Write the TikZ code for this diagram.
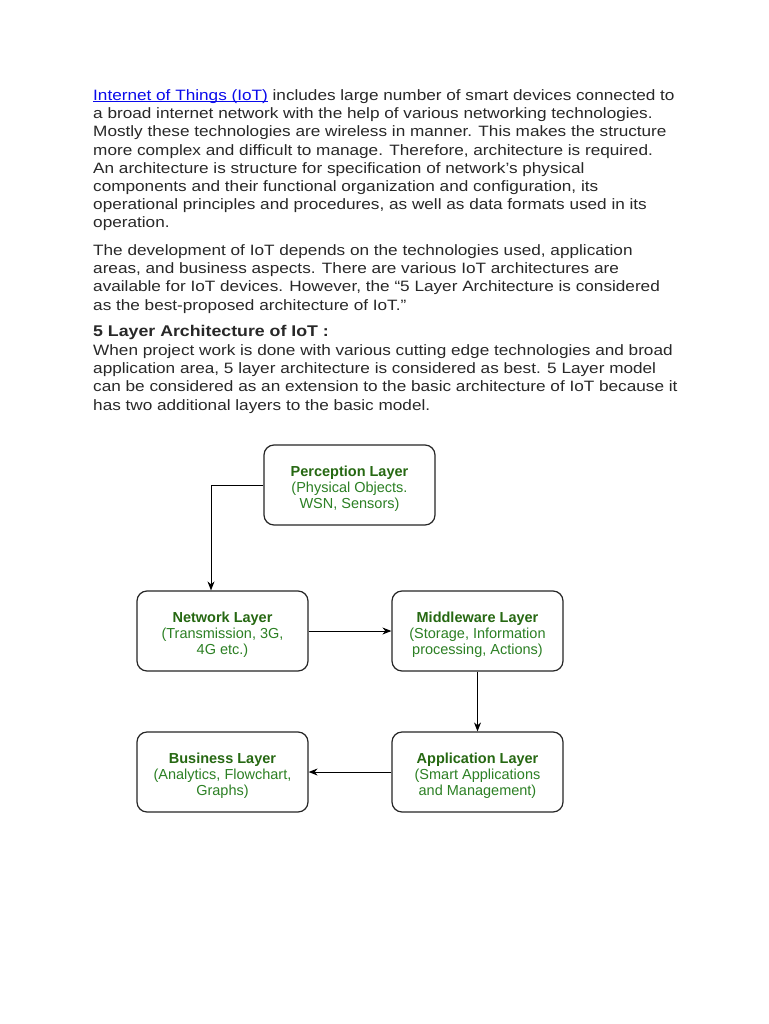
\documentclass[tikz,border=0pt]{standalone}
\usepackage{fontspec}
\setmainfont{Liberation Sans}
\newfontfamily\bodyfont{Liberation Sans}[FakeStretch=1.145]
\usepackage{xcolor}
\usepackage{tikz}
\usetikzlibrary{arrows.meta}

\definecolor{bodygray}{RGB}{40,40,40}
\definecolor{linkblue}{RGB}{10,10,235}
\definecolor{titlegreen}{RGB}{38,104,18}
\definecolor{textgreen}{RGB}{44,128,36}

% pushes the three lines of a box a little down
\newcommand{\boxgap}{\rule{0pt}{17pt}}
% link text with a thin underline close to the baseline
\newcommand{\linktext}[1]{\setbox0\hbox{#1}\rlap{\rule[-1.6pt]{\wd0}{0.9pt}}\box0}

\tikzset{
	para/.style={anchor=base west, align=left, inner sep=0pt, text=bodygray,
		font=\bodyfont\fontsize{15}{18.2}\selectfont},
	layerbox/.style={draw=black!85, line width=1.2pt, rounded corners=10pt,
		minimum width=171pt, minimum height=80pt, align=center, inner sep=0pt,
		text=textgreen, font=\fontsize{14.5}{16}\selectfont},
}

\begin{document}
\begin{tikzpicture}[x=1pt,y=-1pt,>={Stealth[length=9pt,width=7pt]}]
	\useasboundingbox[fill=white] (0,0) rectangle (768,1024);
	
	% text above the diagram (placed by the baseline of the last line)
	\node[para] (intro) at (93,228)
	{{\color{linkblue}\linktext{Internet of Things (IoT)}} includes large number of smart devices connected to\\
		a broad internet network with the help of various networking technologies.\\
		Mostly these technologies are wireless in manner. This makes the structure\\
		more complex and difficult to manage. Therefore, architecture is required.\\
		An architecture is structure for specification of network’s physical\\
		components and their functional organization and configuration, its\\
		operational principles and procedures, as well as data formats used in its\\
		operation.};
	\node[para] (devel) at (93,310)
	{The development of IoT depends on the technologies used, application\\
		areas, and business aspects. There are various IoT architectures are\\
		available for IoT devices. However, the “5 Layer Architecture is considered\\
		as the best-proposed architecture of IoT.”};
	\node[para, font=\bodyfont\bfseries\fontsize{15.5}{18.2}\selectfont] (head) at (93,336)
	{5 Layer Architecture of IoT :};
	\node[para] (when) at (93,410)
	{When project work is done with various cutting edge technologies and broad\\
		application area, 5 layer architecture is considered as best. 5 Layer model\\
		can be considered as an extension to the basic architecture of IoT because it\\
		has two additional layers to the basic model.};
	
	% the five layers
	\node[layerbox] (perc) at (349.5,485)
	{\boxgap{\color{titlegreen}\bfseries Perception Layer}\\(Physical Objects.\\WSN, Sensors)};
	\node[layerbox] (netw) at (222.5,631)
	{\boxgap{\color{titlegreen}\bfseries Network Layer}\\(Transmission, 3G,\\4G etc.)};
	\node[layerbox] (midw) at (477.5,631)
	{\boxgap{\color{titlegreen}\bfseries Middleware Layer}\\(Storage, Information\\processing, Actions)};
	\node[layerbox] (busi) at (222.5,772)
	{\boxgap{\color{titlegreen}\bfseries Business Layer}\\(Analytics, Flowchart,\\Graphs)};
	\node[layerbox] (appl) at (477.5,772)
	{\boxgap{\color{titlegreen}\bfseries Application Layer}\\(Smart Applications\\and Management)};
	
	\coordinate (bend) at (211,485);
	
	\draw[->,line width=1pt] (perc.west) -- (bend) -- (bend |- netw.north);
	\draw[->,line width=1pt] (netw.east) -- (midw.west);
	\draw[->,line width=1pt] (midw.south) -- (appl.north);
	\draw[->,line width=1pt] (appl.west) -- (busi.east);
\end{tikzpicture}
\end{document}
